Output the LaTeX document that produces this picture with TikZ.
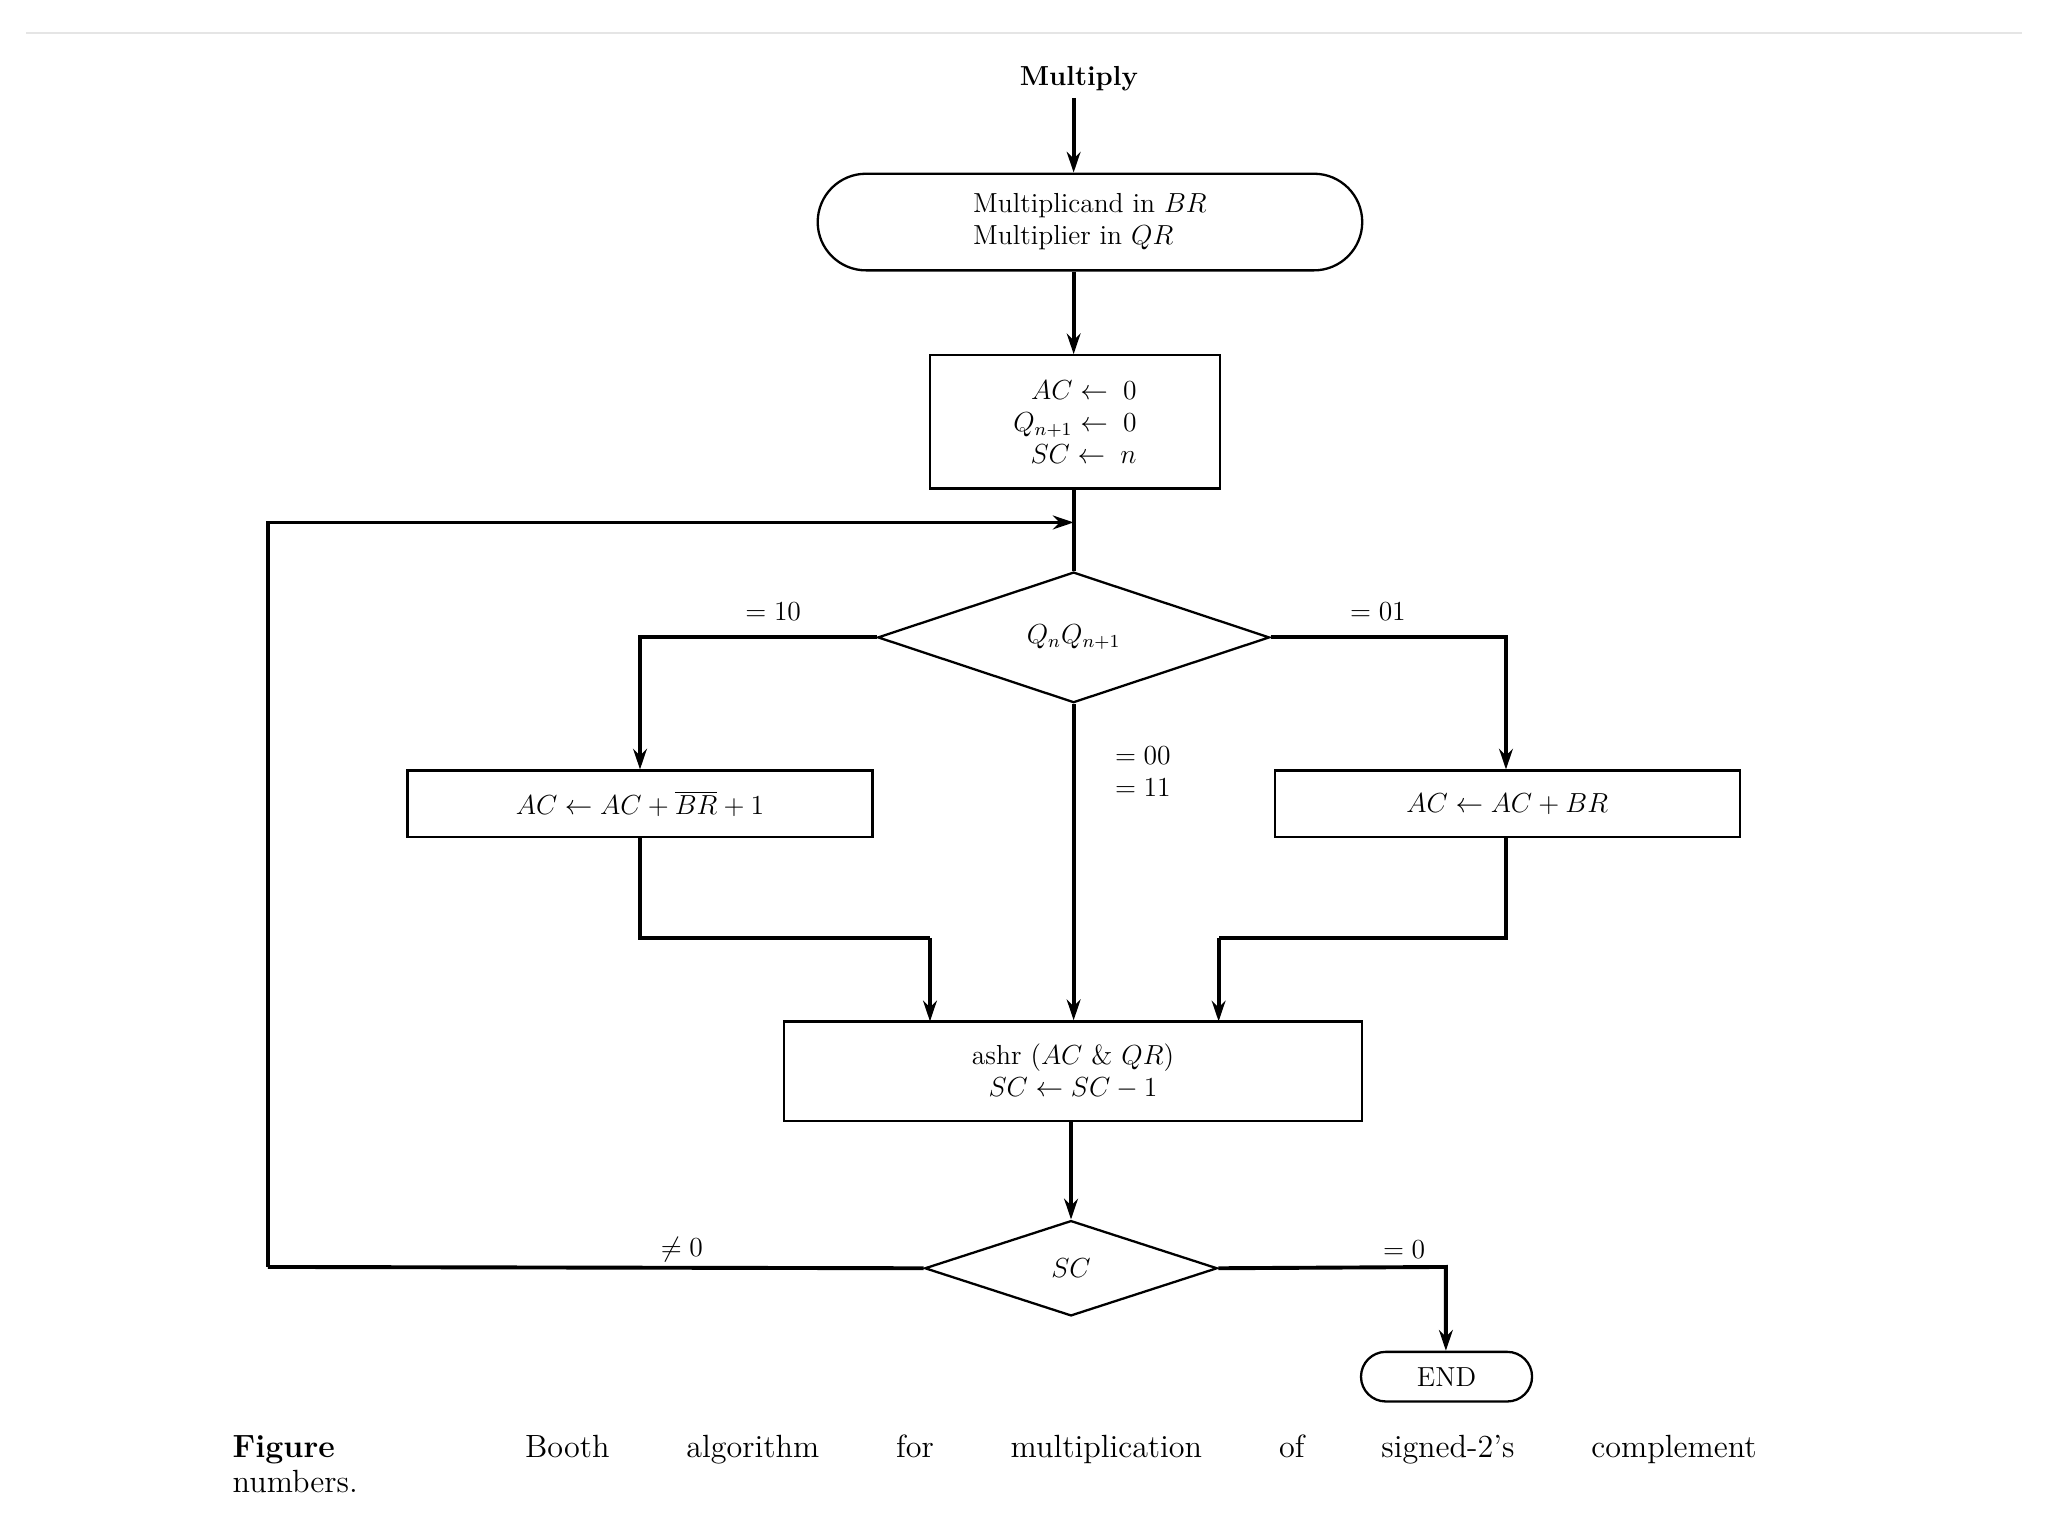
\documentclass[tikz,border=0pt]{standalone}
\usetikzlibrary{shapes.geometric,arrows.meta}
\begin{document}
\begin{tikzpicture}[x=0.02cm,y=-0.02cm,
  every node/.style={font=\fontsize{12}{14}\selectfont},
  ln/.style={line width=1.7pt},
  ar/.style={line width=1.7pt,-{Stealth[length=9pt,width=6pt]}},
  box/.style={draw,line width=1pt,rectangle,inner sep=0pt},
  dia/.style={draw,line width=1pt,diamond,inner sep=0pt},
  lbl/.style={inner sep=1pt},
  capt/.style={inner sep=1pt,anchor=west,font=\fontsize{14}{16}\selectfont}]
\useasboundingbox (0,0) rectangle (1568,1176);
\draw[gray!20,line width=0.8pt] (20,25) -- (1548,25);
\node[lbl] (mul) at (826,60) {\textbf{Multiply}};
\node[box,rounded corners=0.74cm,minimum width=8.34cm,minimum height=1.48cm,align=left] (start) at (834.5,170) {Multiplicand in $BR$\\Multiplier in $QR$};
\node[box,minimum width=4.44cm,minimum height=2.04cm,align=right] (init) at (823,323) {$AC\leftarrow\;0$\\$Q_{n+1}\leftarrow\;0$\\$SC\leftarrow\;n$};
\node[dia,minimum width=6cm,minimum height=2cm,aspect=3] (d1) at (822,488) {$Q_nQ_{n+1}$};
\node[box,minimum width=7.12cm,minimum height=1.02cm] (lb) at (490,615.5) {$AC\leftarrow AC+\overline{BR}+1$};
\node[box,minimum width=7.12cm,minimum height=1.02cm] (rb) at (1154,615.5) {$AC\leftarrow AC+BR$};
\node[box,minimum width=8.86cm,minimum height=1.52cm,align=center] (sh) at (821.5,820) {ashr ($AC$ \& $QR$)\\$SC\leftarrow SC-1$};
\node[dia,minimum width=4.48cm,minimum height=1.46cm,aspect=3.07] (d2) at (820,971) {$SC$};
\node[box,rounded corners=0.38cm,minimum width=2.62cm,minimum height=0.76cm] (end) at (1107.5,1054) {END};
\coordinate (mtop) at (822,400);
\coordinate (loopL) at (205,970);
\coordinate (loopT) at (205,400);
\coordinate (lj) at (712,718);
\coordinate (rj) at (933,718);
\coordinate (lin) at (712,782);
\coordinate (rin) at (933,782);
\coordinate (ein) at (1107,970);
\draw[ar] (822,75) -- (start.north-|822,0);
\draw[ar] (start.south-|822,0) -- (init.north-|822,0);
\draw[ln] (init.south-|822,0) -- (d1.north);
\draw[ar] (loopL) -- (loopT) -- (mtop);
\draw[ar] (d1.west) -| (lb.north);
\draw[ar] (d1.east) -| (rb.north-|1153,0);
\draw[ar] (d1.south) -- (sh.north-|822,0);
\draw[ln] (lb.south) |- (lj);
\draw[ar] (lj) -- (lin);
\draw[ln] (rb.south-|1153,0) |- (rj);
\draw[ar] (rj) -- (rin);
\draw[ar] (sh.south-|820,0) -- (d2.north);
\draw[ln] (d2.west) -- (loopL);
\draw[ar] (d2.east) -- (ein) -- (end.north-|1107,0);
\node[lbl] (l10) at (592,468) {$=10$};
\node[lbl] (l01) at (1055,468) {$=01$};
\node[lbl,align=left] (l00) at (875,591) {$=00$\\$=11$};
\node[lbl] (lne) at (522,957) {$\neq 0$};
\node[lbl] (le0) at (1075,957) {$=0$};
\node[capt] (fig) at (176,1110) {\textbf{Figure}};
\node[capt] (num) at (176,1134) {numbers.};
\node[capt] (cap) at (400,1110) {\makebox[18.86cm][s]{Booth algorithm for multiplication of signed-2's complement}};
\end{tikzpicture}
\end{document}
